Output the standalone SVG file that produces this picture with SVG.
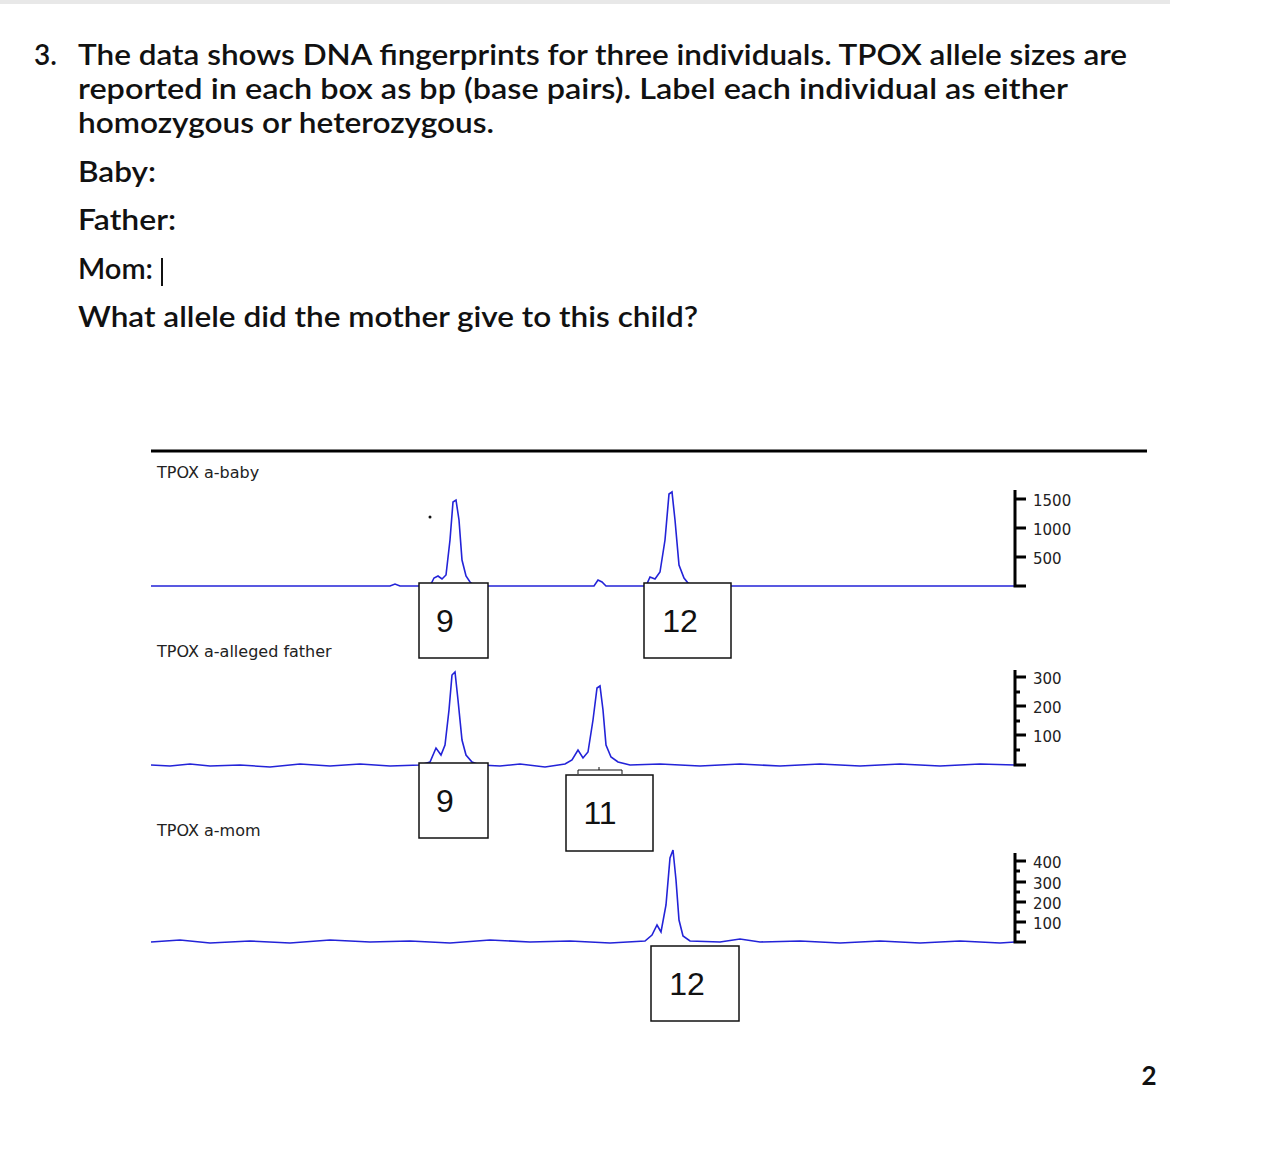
<svg xmlns="http://www.w3.org/2000/svg" width="1264" height="1172" viewBox="0 0 1264 1172">
<style>
.q{font-family:Lato,"Open Sans",sans-serif;font-size:28px;fill:#111;font-weight:600}
.lab{font-family:"DejaVu Sans",sans-serif;font-size:16px;fill:#222}
.trace{fill:none;stroke:#2323d8;stroke-width:1.6}
.box rect{fill:#fff;stroke:#111;stroke-width:1.5}
.box text{font-family:"Liberation Sans",Arial,sans-serif;font-size:32px;fill:#111;text-anchor:middle}
.ax{stroke:#000;stroke-width:3;fill:none}
.tk{stroke:#000;stroke-width:3}
.sc{font-family:"DejaVu Sans",sans-serif;font-size:15px;fill:#222}
</style>
<rect width="1264" height="1172" fill="#fff"/>
<rect x="0" y="0" width="1170" height="4" fill="#e8e8e8"/>
<g id="question">
<text class="q" x="34" y="65">3.</text>
<text class="q" x="78" y="65" textLength="1049" lengthAdjust="spacingAndGlyphs">The data shows DNA fingerprints for three individuals. TPOX allele sizes are</text>
<text class="q" x="78" y="99" textLength="990" lengthAdjust="spacingAndGlyphs">reported in each box as bp (base pairs). Label each individual as either</text>
<text class="q" x="78" y="133" textLength="416" lengthAdjust="spacingAndGlyphs">homozygous or heterozygous.</text>
<text class="q" x="78" y="182" textLength="78" lengthAdjust="spacingAndGlyphs">Baby:</text>
<text class="q" x="78" y="230" textLength="98" lengthAdjust="spacingAndGlyphs">Father:</text>
<text class="q" x="78" y="279" textLength="75" lengthAdjust="spacingAndGlyphs">Mom:</text>
<line x1="162" y1="258" x2="162" y2="286" stroke="#111" stroke-width="2"/>
<text class="q" x="78" y="327" textLength="620" lengthAdjust="spacingAndGlyphs">What allele did the mother give to this child?</text>
</g>
<line x1="151" y1="451" x2="1147" y2="451" stroke="#000" stroke-width="3"/>
<g id="baby">
<text class="lab" x="157" y="478">TPOX a-baby</text>
<circle cx="430" cy="517" r="1.5" fill="#111"/>
<path class="trace" d="M151 586 H390 L395 584 L400 586 H430 L434 578 L438 576 L442 579 L446 575 L450 540 L453 502 L456 500 L459 520 L462 560 L466 576 L470 582 L475 586 H594 L598 580 L602 582 L606 586 H646 L650 577 L655 579 L660 572 L665 540 L669 494 L672 492 L675 520 L679 565 L684 578 L688 583 L694 586 H1015"/>
<path class="ax" d="M1015 490 V586 H1026"/>
<path class="tk" d="M1015 499 H1026 M1015 528 H1026 M1015 557 H1026"/>
<text class="sc" x="1033" y="506">1500</text>
<text class="sc" x="1033" y="535">1000</text>
<text class="sc" x="1033" y="564">500</text>
</g>
<g id="box-baby-9" class="box"><rect x="419" y="583" width="69" height="75"/><text x="445" y="632">9</text></g>
<g id="box-baby-12" class="box"><rect x="644" y="583" width="87" height="75"/><text x="680" y="632">12</text></g>
<g id="father">
<text class="lab" x="157" y="657">TPOX a-alleged father</text>
<path class="trace" d="M151 765 L170 766 L190 764 L210 766 L240 765 L270 767 L300 764 L330 766 L360 764 L390 766 L420 765 L430 762 L436 748 L441 755 L445 745 L449 710 L452 675 L455 672 L458 700 L462 740 L466 755 L472 762 L480 765 L500 766 L520 764 L545 767 L565 764 L572 760 L578 750 L583 758 L588 752 L593 720 L597 688 L600 686 L603 710 L606 745 L611 757 L618 762 L630 765 L660 764 L700 766 L740 764 L780 766 L820 764 L860 766 L900 764 L940 766 L980 764 L1015 765"/>
<path class="ax" d="M1015 670 V765 H1026"/>
<path class="tk" d="M1015 677 H1026 M1015 706 H1026 M1015 735 H1026 M1015 692 H1020 M1015 721 H1020 M1015 750 H1020"/>
<text class="sc" x="1033" y="684">300</text>
<text class="sc" x="1033" y="713">200</text>
<text class="sc" x="1033" y="742">100</text>
</g>
<g id="box-father-9" class="box"><rect x="419" y="763" width="69" height="75"/><text x="445" y="812">9</text></g>
<g id="box-father-11" class="box"><path d="M578 774 V770 H622 V774 M599 770 V767" fill="none" stroke="#111" stroke-width="1"/><rect x="566" y="775" width="87" height="76"/><text x="600" y="824">11</text></g>
<g id="mom">
<text class="lab" x="157" y="836">TPOX a-mom</text>
<path class="trace" d="M151 942 L180 940 L210 943 L250 941 L290 943 L330 940 L370 942 L410 941 L450 943 L490 940 L530 942 L570 941 L610 943 L645 941 L652 935 L657 925 L661 932 L666 905 L670 858 L673 850 L676 880 L679 920 L683 936 L690 941 L720 942 L740 939 L760 942 L800 941 L840 943 L880 941 L920 943 L960 941 L1000 943 L1015 942"/>
<path class="ax" d="M1015 853 V942 H1026"/>
<path class="tk" d="M1015 861 H1026 M1015 882 H1026 M1015 902 H1026 M1015 922 H1026 M1015 871 H1020 M1015 892 H1020 M1015 912 H1020 M1015 932 H1020"/>
<text class="sc" x="1033" y="868">400</text>
<text class="sc" x="1033" y="889">300</text>
<text class="sc" x="1033" y="909">200</text>
<text class="sc" x="1033" y="929">100</text>
</g>
<g id="box-mom-12" class="box"><rect x="651" y="946" width="88" height="75"/><text x="687" y="995">12</text></g>
<text x="1149" y="1085" font-family="Lato,sans-serif" font-weight="bold" font-size="26" fill="#111" text-anchor="middle">2</text>
</svg>
